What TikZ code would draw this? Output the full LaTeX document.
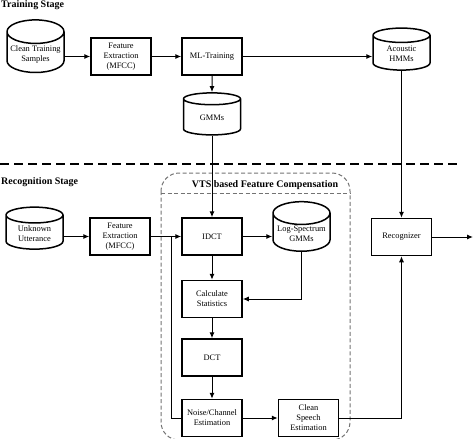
\documentclass[tikz,border=0pt]{standalone}
\usepackage{fontspec}
\setmainfont{Liberation Serif}
\usetikzlibrary{positioning, arrows.meta, shapes.geometric}

\begin{document}
\begin{tikzpicture}[
        x=1pt, y=-1pt,
        node distance=22pt and 26pt, % Distance between nodes
        every node/.style={font=\fontsize{8.4}{10}\selectfont, align=center}, % Node style
        procbox/.style={draw, line width=1.5pt, minimum width=60pt, minimum height=37pt, inner sep=1pt}, % Process box
        datastore/.style={draw, line width=1.5pt, cylinder, shape border rotate=90, aspect=0.45,
            minimum width=57pt, minimum height=42pt, inner sep=1pt}, % Data cylinder
        stagelabel/.style={font=\fontsize{10}{12}\selectfont\bfseries, inner sep=0pt}, % Titles
        arrow/.style={-{Latex[length=6pt, width=5pt]}, line width=1pt}, % Arrow style
        link/.style={line width=1pt}, % Plain line
        vtsline/.style={line width=1pt, black!55, dash pattern=on 4pt off 2.5pt}
    ]
    \useasboundingbox (0,0) rectangle (474,439);

    % Stage titles and separator
    \node[stagelabel, anchor=base west] (train) at (1,7) {Training Stage};
    \node[stagelabel, anchor=base west] (recog) at (1,184) {Recognition Stage};
    \draw[line width=1.2pt, dash pattern=on 9pt off 5pt] (0,164) -- (458,164);

    % VTS frame
    \draw[vtsline, rounded corners=18pt] (161,173) rectangle (350,440);
    \draw[vtsline] (161,193) -- (350,193);
    \node[stagelabel, anchor=base] (vts) at (265,187.5) {VTS based Feature Compensation};

    % Training nodes
    \node (css) [datastore] at (35.5,54) {Clean Training\\Samples};
    \node (fe1) [procbox] at (121,56.5) {Feature\\Extraction\\(MFCC)};
    \node (ml) [procbox] at (212,56.5) {ML-Training};
    \node (hmm) [datastore] at (401.5,54) {Acoustic\\HMMs};
    \node (gmm) [datastore] at (212,118) {GMMs};

    % Recognition nodes
    \node (uu) [datastore] at (34.5,233.5) {Unknown\\Utterance};
    \node (fe2) [procbox] at (120,236.5) {Feature\\Extraction\\(MFCC)};
    \node (idct) [procbox] at (212,236.5) {IDCT};
    \node (lsg) [datastore] at (301.5,234) {Log-Spectrum\\GMMs};
    \node (stat) [procbox, below=24pt of idct] {Calculate\\Statistics};
    \node (dct) [procbox, below=20pt of stat] {DCT};
    \node (nce) [procbox, below=22pt of dct] {Noise/Channel\\Estimation};
    \node (cse) [procbox, right=35pt of nce] {Clean\\Speech\\Estimation};
    \node (rec) [procbox] at (401.5,237) {Recognizer};
    \coordinate (out) at (473,237);

    % Training connections
    \draw[arrow] (css.east |- fe1.west) -- (fe1.west);
    \draw[arrow] (fe1) -- (ml);
    \draw[arrow] (ml.east) -- (ml.east -| hmm.west);
    \draw[arrow] (ml) -- (gmm);
    \draw[arrow] (gmm) -- (idct);

    % Recognition connections
    \draw[arrow] (uu.east |- fe2.west) -- (fe2.west);
    \draw[arrow] (fe2) -- (idct);
    \coordinate (br) at ([xshift=-10pt]idct.west);
    \draw[link] (br) |- (nce.west);
    \draw[arrow] (idct.east) -- (idct.east -| lsg.west);
    \draw[arrow] (lsg.south) |- (stat.east);
    \draw[arrow] (idct) -- (stat);
    \draw[arrow] (stat) -- (dct);
    \draw[arrow] (dct) -- (nce);
    \draw[arrow] (nce) -- (cse);
    \draw[arrow] (cse.east) -| (rec.south);
    \draw[arrow] (hmm.south) -- (hmm.south |- rec.north);
    \draw[arrow] (rec) -- (out);

\end{tikzpicture}
\end{document}
